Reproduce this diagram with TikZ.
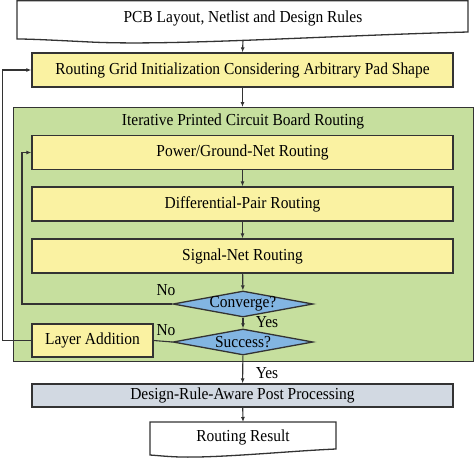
\documentclass[tikz,border=0pt]{standalone}
\usepackage{fontspec}
\setmainfont[FakeStretch=0.92]{Liberation Serif}
\usetikzlibrary{shapes.geometric,arrows.meta}
\definecolor{boxyellow}{HTML}{FAF2A2}
\definecolor{boxgreen}{HTML}{C6DF9E}
\definecolor{boxblue}{HTML}{82B5E2}
\definecolor{boxgray}{HTML}{D2D9E2}
\definecolor{edge}{HTML}{333333}
\tikzset{
  lbl/.style={font=\fontsize{16.8}{18}\selectfont, inner sep=0pt},
  rbox/.style={draw=edge, line width=1.3pt, inner sep=0pt, font=\fontsize{16.8}{18}\selectfont},
  ybox/.style={rbox, fill=boxyellow, minimum width=421pt, minimum height=34pt},
  dec/.style={rbox, shape=diamond, fill=boxblue, aspect=5.4, inner sep=-4pt, minimum width=140pt, minimum height=26pt},
  arr/.style={draw=edge, line width=1.1pt, -{Latex[length=5pt,width=4pt]}},
  ln/.style={draw=edge, line width=1.1pt},
  doc/.style={draw=edge, line width=1.3pt, fill=white},
}
\begin{document}
\begin{tikzpicture}[x=1pt,y=-1pt]
\useasboundingbox (0,0) rectangle (474,460);
% top document
\draw[doc] (17,0.7) -- (468,0.7) -- (468,32) .. controls (320,36) and (170,46) .. (90,42) .. controls (50,40) and (30,39) .. (17,39) -- cycle;
\node[lbl] (top) at (243,18) {PCB Layout, Netlist and Design Rules};
\coordinate (topb) at (243,40);
% grid
\node[ybox] (grid) at (242.5,70) {Routing Grid Initialization Considering Arbitrary Pad Shape};
% green container
\node[rbox, fill=boxgreen, minimum width=460pt, minimum height=254pt, anchor=north west] (iter) at (13,107) {};
\node[lbl] (ititle) at (243,121) {Iterative Printed Circuit Board Routing};
\node[ybox] (pg) at (242.5,152.5) {Power/Ground-Net Routing};
\node[ybox] (dp) at (242.5,204) {Differential-Pair Routing};
\node[ybox] (sn) at (242.5,256) {Signal-Net Routing};
\node[dec] (conv) at (243,304) {Converge?};
\node[dec] (succ) at (243,342) {Success?};
\node[rbox, fill=boxyellow, minimum width=121pt, minimum height=33pt] (layer) at (92.5,340.5) {Layer Addition};
% post
\node[rbox, fill=boxgray, minimum width=421pt, minimum height=23pt] (post) at (242.5,395.5) {Design-Rule-Aware Post Processing};
% result document
\draw[doc] (150,422) -- (336,422) -- (336,449) .. controls (290,451) and (220,458) .. (180,457) .. controls (165,456.5) and (158,455.5) .. (150,455) -- cycle;
\node[lbl] (res) at (243,437) {Routing Result};
\coordinate (rest) at (243,422);
% labels
\node[lbl] (no1) at (166,290) {No};
\node[lbl] (yes1) at (267,322) {Yes};
\node[lbl] (no2) at (166,330) {No};
\node[lbl] (yes2) at (267,373) {Yes};
% loop coordinates
\coordinate (c1) at (22,304);
\coordinate (c2) at (22,152.5);
\coordinate (o1) at (2.5,340.5);
\coordinate (o2) at (2.5,70);
% connectors
\draw[arr] (topb) -- (grid.north);
\draw[arr] (grid.south) -- (iter.north -| grid.south);
\draw[arr] (pg) -- (dp);
\draw[arr] (dp) -- (sn);
\draw[arr] (sn) -- (conv);
\draw[arr] (conv) -- (succ);
\draw[arr] (succ) -- (post);
\draw[arr] (post) -- (rest);
\draw[arr] (conv.west) -- (c1) -- (c2) -- (pg.west);
\draw[ln] (succ.west) -- (layer.east);
\draw[arr] (layer.west) -- (o1) -- (o2) -- (grid.west);
\end{tikzpicture}
\end{document}
